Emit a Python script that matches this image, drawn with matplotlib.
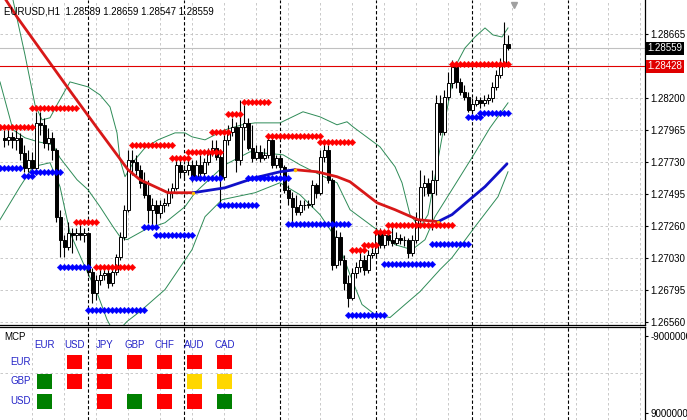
import numpy as np
import matplotlib.pyplot as plt
from matplotlib.patches import Rectangle

plt.rcParams['font.family'] = ['Liberation Sans', 'DejaVu Sans']

# EURUSD H1 bars, oldest -> newest. Open of each bar = previous close.
first_open = 1.27906
closes = [
    1.27891, 1.27913, 1.27891, 1.27906, 1.27797, 1.27687, 1.27746, 1.27687, 1.28015, 1.28001,
    1.27870, 1.27906, 1.27818, 1.27330, 1.27162, 1.27111, 1.27213, 1.27199, 1.27213, 1.27199,
    1.27213, 1.26929, 1.26776, 1.26871, 1.26907, 1.26922, 1.26849, 1.26929, 1.27038, 1.27184,
    1.27381, 1.27746, 1.27731, 1.27673, 1.27578, 1.27490, 1.27381, 1.27418, 1.27359, 1.27418,
    1.27432, 1.27505, 1.27541, 1.27709, 1.27658, 1.27673, 1.27709, 1.27622, 1.27709, 1.27651,
    1.27731, 1.27797, 1.27833, 1.27767, 1.27622, 1.27891, 1.27950, 1.27986, 1.27746, 1.27986,
    1.28015, 1.27833, 1.27760, 1.27804, 1.27760, 1.27782, 1.27891, 1.27709, 1.27760, 1.27695,
    1.27527, 1.27469, 1.27403, 1.27367, 1.27418, 1.27414, 1.27425, 1.27563, 1.27505, 1.27767,
    1.27818, 1.27600, 1.26980, 1.27184, 1.27017, 1.26849, 1.26740, 1.26922, 1.26966, 1.27017,
    1.26944, 1.27053, 1.27068, 1.27221, 1.27126, 1.27199, 1.27162, 1.27141, 1.27177, 1.27162,
    1.27158, 1.27068, 1.27162, 1.27308, 1.27549, 1.27578, 1.27505, 1.27600, 1.28161, 1.27950,
    1.28205, 1.28307, 1.28424, 1.28314, 1.28241, 1.28205, 1.28110, 1.28154, 1.28183, 1.28161,
    1.28183, 1.28198, 1.28278, 1.28365, 1.28453, 1.28589, 1.28559,
]
highs = [
    1.27964, 1.27979, 1.27950, 1.27964, 1.27942, 1.27855, 1.27818, 1.27804, 1.28096, 1.28096,
    1.28052, 1.27979, 1.27950, 1.27833, 1.27381, 1.27199, 1.27294, 1.27250, 1.27250, 1.27272,
    1.27250, 1.27221, 1.26958, 1.26907, 1.26958, 1.26980, 1.26958, 1.26973, 1.27060, 1.27221,
    1.27418, 1.27818, 1.27818, 1.27782, 1.27709, 1.27658, 1.27600, 1.27469, 1.27454, 1.27454,
    1.27469, 1.27541, 1.27578, 1.27746, 1.27746, 1.27709, 1.27746, 1.27746, 1.27746, 1.27782,
    1.27760, 1.27833, 1.27891, 1.27891, 1.27818, 1.27928, 1.28001, 1.28052, 1.28023, 1.28183,
    1.28147, 1.28052, 1.28001, 1.27855, 1.27855, 1.27833, 1.27928, 1.27913, 1.27782, 1.27782,
    1.27709, 1.27563, 1.27512, 1.27490, 1.27454, 1.27454, 1.27454, 1.27600, 1.27578, 1.27818,
    1.27891, 1.27855, 1.27614, 1.27235, 1.27221, 1.27053, 1.26907, 1.26958, 1.27002, 1.27075,
    1.27053, 1.27089, 1.27104, 1.27250, 1.27250, 1.27235, 1.27221, 1.27272, 1.27221, 1.27206,
    1.27192, 1.27177, 1.27199, 1.27367, 1.27673, 1.27636, 1.27614, 1.27673, 1.28219, 1.28219,
    1.28256, 1.28387, 1.28475, 1.28460, 1.28343, 1.28292, 1.28241, 1.28198, 1.28212, 1.28205,
    1.28219, 1.28227, 1.28314, 1.28402, 1.28489, 1.28752, 1.28659,
]
lows = [
    1.27840, 1.27855, 1.27833, 1.27818, 1.27746, 1.27658, 1.27658, 1.27636, 1.27673, 1.27928,
    1.27833, 1.27818, 1.27746, 1.27294, 1.27038, 1.27038, 1.27089, 1.27068, 1.27162, 1.27162,
    1.27148, 1.26900, 1.26703, 1.26725, 1.26834, 1.26871, 1.26812, 1.26827, 1.26907, 1.27017,
    1.27162, 1.27367, 1.27636, 1.27636, 1.27541, 1.27469, 1.27286, 1.27257, 1.27257, 1.27323,
    1.27367, 1.27410, 1.27469, 1.27527, 1.27614, 1.27600, 1.27636, 1.27585, 1.27600, 1.27614,
    1.27629, 1.27709, 1.27775, 1.27746, 1.27403, 1.27600, 1.27855, 1.27921, 1.27658, 1.27709,
    1.27891, 1.27818, 1.27731, 1.27746, 1.27731, 1.27746, 1.27760, 1.27687, 1.27687, 1.27658,
    1.27505, 1.27418, 1.27286, 1.27345, 1.27345, 1.27381, 1.27396, 1.27403, 1.27469, 1.27490,
    1.27731, 1.27578, 1.26944, 1.26958, 1.26980, 1.26798, 1.26674, 1.26725, 1.26885, 1.26929,
    1.26907, 1.26922, 1.27031, 1.27046, 1.27104, 1.27104, 1.27126, 1.27119, 1.27126, 1.27133,
    1.27119, 1.27031, 1.27046, 1.27141, 1.27294, 1.27483, 1.27483, 1.27235, 1.27490, 1.27928,
    1.27928, 1.28183, 1.28270, 1.28270, 1.28219, 1.28183, 1.28096, 1.28096, 1.28139, 1.28125,
    1.28139, 1.28154, 1.28168, 1.28256, 1.28343, 1.28431, 1.28547,
]

# colour-switching moving average, knots (bar, price) per run
ma_runs = [
    ('down', [0, 3.25, 16.5, 23.25, 31, 34, 41, 47.25],
     [1.28934, 1.28788, 1.28249, 1.27979, 1.27673, 1.27600, 1.27505, 1.27505]),
    ('up', [47.25, 55.25, 62.75, 69, 72.75],
     [1.27505, 1.27541, 1.27614, 1.27658, 1.27673]),
    ('down', [72.75, 78.25, 83.25, 86.5, 93.25, 97.75, 103.5, 108.5],
     [1.27673, 1.27658, 1.27622, 1.27585, 1.27432, 1.27381, 1.27308, 1.27294]),
    ('up', [108.5, 112, 117, 120.25, 125.75],
     [1.27294, 1.27345, 1.27469, 1.27549, 1.27716]),
]

# band lines (bar, price)
upper_bar = [2.25, 5.25, 7.75, 9.5, 11.5, 13.25, 16.5, 21, 24, 26.5,
             28.25, 29, 30.25, 32.75, 35.25, 38.5, 42.75, 45.25, 47, 50.25,
             52.75, 55.25, 59.5, 62.75, 69, 74.75, 79, 83.25, 85.75, 87.25,
             94, 97.75, 99.5, 101.5, 104, 106, 108.5, 110.75, 112.75, 115.25,
             117.75, 120.25, 122.25, 124.5, 126]
upper_p = [1.28912, 1.28511, 1.28147, 1.28037, 1.28052, 1.28147, 1.28314, 1.28278, 1.28219, 1.28132,
           1.27942, 1.27746, 1.27622, 1.27746, 1.27833, 1.27891, 1.27942, 1.27942, 1.27913, 1.27891,
           1.27928, 1.27964, 1.28001, 1.28015, 1.28015, 1.28096, 1.28059, 1.28001, 1.28023, 1.27986,
           1.27840, 1.27695, 1.27578, 1.27345, 1.27250, 1.27345, 1.27746, 1.28110, 1.28424, 1.28562,
           1.28642, 1.28708, 1.28657, 1.28642, 1.28708]
middle_bar = [-1, 2.25, 5.25, 8.5, 12.25, 14, 18.25, 21, 24, 27.25,
              29, 30.75, 35.25, 40.25, 45.25, 47.75, 55.25, 61.5, 69.75, 74,
              79, 83.25, 86.5, 93.25, 97.75, 102, 105.25, 107.75, 112.75, 117.75,
              121.5, 126]
middle_p = [1.28314, 1.27964, 1.27906, 1.27877, 1.27855, 1.27760, 1.27600, 1.27527, 1.27403, 1.27257,
            1.27184, 1.27162, 1.27235, 1.27286, 1.27403, 1.27505, 1.27709, 1.27804, 1.27782, 1.27709,
            1.27636, 1.27578, 1.27381, 1.27235, 1.27126, 1.27089, 1.27162, 1.27330, 1.27563, 1.27797,
            1.27979, 1.28161]
lower_bar = [-1, 4, 7.25, 11.5, 14, 16.5, 19.75, 23.25, 25.75, 27.75,
             30.75, 34, 40.25, 47, 50.25, 54.5, 62.75, 69, 74, 79,
             83.25, 86.5, 89.5, 92.75, 96.5, 100.25, 104, 109, 112, 117.75,
             123.5, 126]
lower_p = [1.27308, 1.27549, 1.27695, 1.27724, 1.27549, 1.27213, 1.26995, 1.26776, 1.26579, 1.26470,
           1.26565, 1.26638, 1.26798, 1.27089, 1.27330, 1.27454, 1.27505, 1.27578, 1.27490, 1.27345,
           1.27162, 1.26907, 1.26689, 1.26616, 1.26594, 1.26689, 1.26783, 1.26944, 1.27031, 1.27257,
           1.27476, 1.27658]

# dotted resistance / support levels: (first bar, last bar, price)
res_levels = [(-1, 7, 1.27986), (7, 18, 1.28125), (18, 23, 1.27294), (23, 32, 1.26966),
              (32, 42, 1.27855), (42, 46, 1.27760), (46, 54, 1.27804), (52, 56, 1.27950),
              (56, 59, 1.28081), (60, 66, 1.28168), (66, 79, 1.27921), (79, 87, 1.27877),
              (87, 90, 1.27089), (90, 93, 1.27126), (93, 96, 1.27221), (96, 112, 1.27272),
              (112, 126, 1.28446)]
sup_levels = [(-1, 4, 1.27687), (5, 7, 1.27629), (7, 14, 1.27658), (14, 21, 1.26966),
              (21, 35, 1.26652), (35, 38, 1.27257), (38, 47, 1.27199), (47, 54, 1.27614),
              (54, 63, 1.27418), (61, 71, 1.27614), (71, 86, 1.27279), (86, 95, 1.26616),
              (95, 107, 1.26988), (107, 116, 1.27133), (116, 119, 1.28059), (119, 126, 1.28088)]

bid = 1.28559
level_line = 1.28428
price_ticks = [1.26560, 1.26795, 1.27030, 1.27260, 1.27495, 1.27730, 1.27965, 1.28200, 1.28665]
title = 'EURUSD,H1  1.28589 1.28659 1.28547 1.28559'

# MCP matrix panel
mcp_cols = ['EUR', 'USD', 'JPY', 'GBP', 'CHF', 'AUD', 'CAD']
mcp_rows = ['EUR', 'GBP', 'USD']
mcp_signals = [
    ['', 'sell', 'sell', 'sell', 'sell', 'sell', 'sell'],
    ['buy', 'sell', 'sell', '', 'sell', 'flat', 'flat'],
    ['buy', '', 'sell', 'buy', 'sell', 'sell', 'buy'],
]
sig_colors = {'sell': '#FF0000', 'buy': '#008000', 'flat': '#FFD700'}

W, H = 687, 420
fig = plt.figure(figsize=(W / 100, H / 100), dpi=100)
ax = fig.add_axes([0, (H - 324.5) / H, 645 / W, 324.5 / H])
ax2 = fig.add_axes([0, 0, 645 / W, (H - 327) / H])

xmin, xmax = -1, 160.25
ax.set_xlim(xmin, xmax)
ax.set_ylim(1.26543, 1.28912)

grid_x = np.arange(7, 161, 8)
day_x = np.arange(21, 161, 24)
for a in (ax, ax2):
    for g in grid_x:
        a.axvline(g, color='#C0C0C0', lw=0.6, ls=(0, (3, 3)), zorder=0)
    for d in day_x:
        a.axvline(d, color='black', lw=0.8, ls=(0, (3, 2)), zorder=1)
for t in price_ticks:
    ax.axhline(t, color='#C0C0C0', lw=0.6, ls=(0, (3, 3)), zorder=0)

# bands
for bx, bp in ((upper_bar, upper_p), (middle_bar, middle_p), (lower_bar, lower_p)):
    ax.plot(bx, bp, color='#2E8B57', lw=0.7, zorder=2)

# candles
closes = np.array(closes)
highs = np.array(highs)
lows = np.array(lows)
opens = np.r_[first_open, closes[:-1]]
idx = np.arange(len(closes))
up = closes >= opens
body_lo = np.minimum(opens, closes)
body_h = np.maximum(np.abs(closes - opens), 0.00003)
ax.vlines(idx, lows, highs, color='black', lw=0.8, zorder=3)
ax.bar(idx[up], body_h[up], bottom=body_lo[up], width=0.75,
       facecolor='white', edgecolor='black', lw=0.7, zorder=4)
ax.bar(idx[~up], body_h[~up], bottom=body_lo[~up], width=0.75,
       facecolor='black', edgecolor='black', lw=0.7, zorder=4)

# moving average
for k, (trend, mx, mp) in enumerate(ma_runs):
    ax.plot(mx, mp, color='#D81818' if trend == 'down' else '#1010C8',
            lw=2.0, solid_capstyle='round', zorder=5)
    if k > 0:
        ax.plot(mx[0], mp[0], 'o', ms=2.5, color='#FFC000', mec='none', zorder=6)

# level dots
for levels, col in ((res_levels, '#FF0000'), (sup_levels, '#0000FF')):
    for a, b, p in levels:
        xs = np.arange(a, b + 1)
        ax.plot(xs, [p] * len(xs), ls='none', marker='D', ms=3.3,
                color=col, mec=col, mew=0.3, zorder=7)

ax.axhline(bid, color='#C0C0C0', lw=0.8, zorder=1)
ax.axhline(level_line, color='#E00000', lw=0.8, zorder=6)

# axes styling
ax.yaxis.tick_right()
ax.set_yticks(price_ticks)
ax.set_yticklabels([f'{t:.5f}' for t in price_ticks])
ax.tick_params(axis='y', length=2.5, width=0.8, pad=1.5, labelsize=7, colors='black')
ax.set_xticks([])
for s in ('top', 'left'):
    ax.spines[s].set_visible(False)
for s in ('right', 'bottom'):
    ax.spines[s].set_color('black')
    ax.spines[s].set_linewidth(0.9)

ytr = ax.get_yaxis_transform()
ax.text(1.004, bid, '1.28559', transform=ytr, ha='left', va='center', fontsize=7,
        color='white', bbox=dict(boxstyle='square,pad=0.18', fc='black', ec='none'), zorder=10)
ax.text(1.004, level_line, '1.28428', transform=ytr, ha='left', va='center', fontsize=7,
        color='white', bbox=dict(boxstyle='square,pad=0.18', fc='#E00000', ec='none'), zorder=10)

ax.plot(514 / 645, 1 - 5 / 324.5, marker='v', ms=4, color='#A0A0A0',
        transform=ax.transAxes, clip_on=False)
fig.text(4 / W, 1 - 12 / H, title, fontsize=7, color='black', va='center', ha='left')

# bottom panel
ax2.set_xlim(xmin, xmax)
ax2.set_ylim(0, 1)
ax2.axhline(0.505, color='#C0C0C0', lw=0.6, ls=(0, (3, 3)), zorder=0)
ax2.yaxis.tick_right()
ax2.set_yticks([(420 - 336) / 93, (420 - 413) / 93])
ax2.set_yticklabels(['-9000000', '9000000'])
ax2.tick_params(axis='y', length=2.5, width=0.8, pad=1.5, labelsize=7)
ax2.set_xticks([])
for s in ('left', 'bottom'):
    ax2.spines[s].set_visible(False)
for s in ('right', 'top'):
    ax2.spines[s].set_color('black')
    ax2.spines[s].set_linewidth(0.9)

# MCP overlay in pixel units
ax3 = fig.add_axes([0, 0, 645 / W, (H - 327) / H])
ax3.set_xlim(0, 645)
ax3.set_ylim(420, 327)
ax3.axis('off')
ax3.patch.set_alpha(0)
ax3.text(4, 337, 'MCP', fontsize=7, color='black', ha='left', va='center')
col_x = [44.5, 74.5, 104.5, 134.5, 164.5, 194.5, 224.5]
row_y = [362, 381.5, 401.5]
lab_col = '#2424C8'
for cx, name in zip(col_x, mcp_cols):
    ax3.text(cx, 345, name, fontsize=7, color=lab_col, ha='center', va='center')
for ry, name, sigs in zip(row_y, mcp_rows, mcp_signals):
    ax3.text(31, ry, name, fontsize=7, color=lab_col, ha='right', va='center')
    for cx, s in zip(col_x, sigs):
        if s:
            ax3.add_patch(Rectangle((cx - 7.5, ry - 7.25), 15, 14.5,
                                    facecolor=sig_colors[s], edgecolor='none'))

fig.savefig('out.png', dpi=100)
